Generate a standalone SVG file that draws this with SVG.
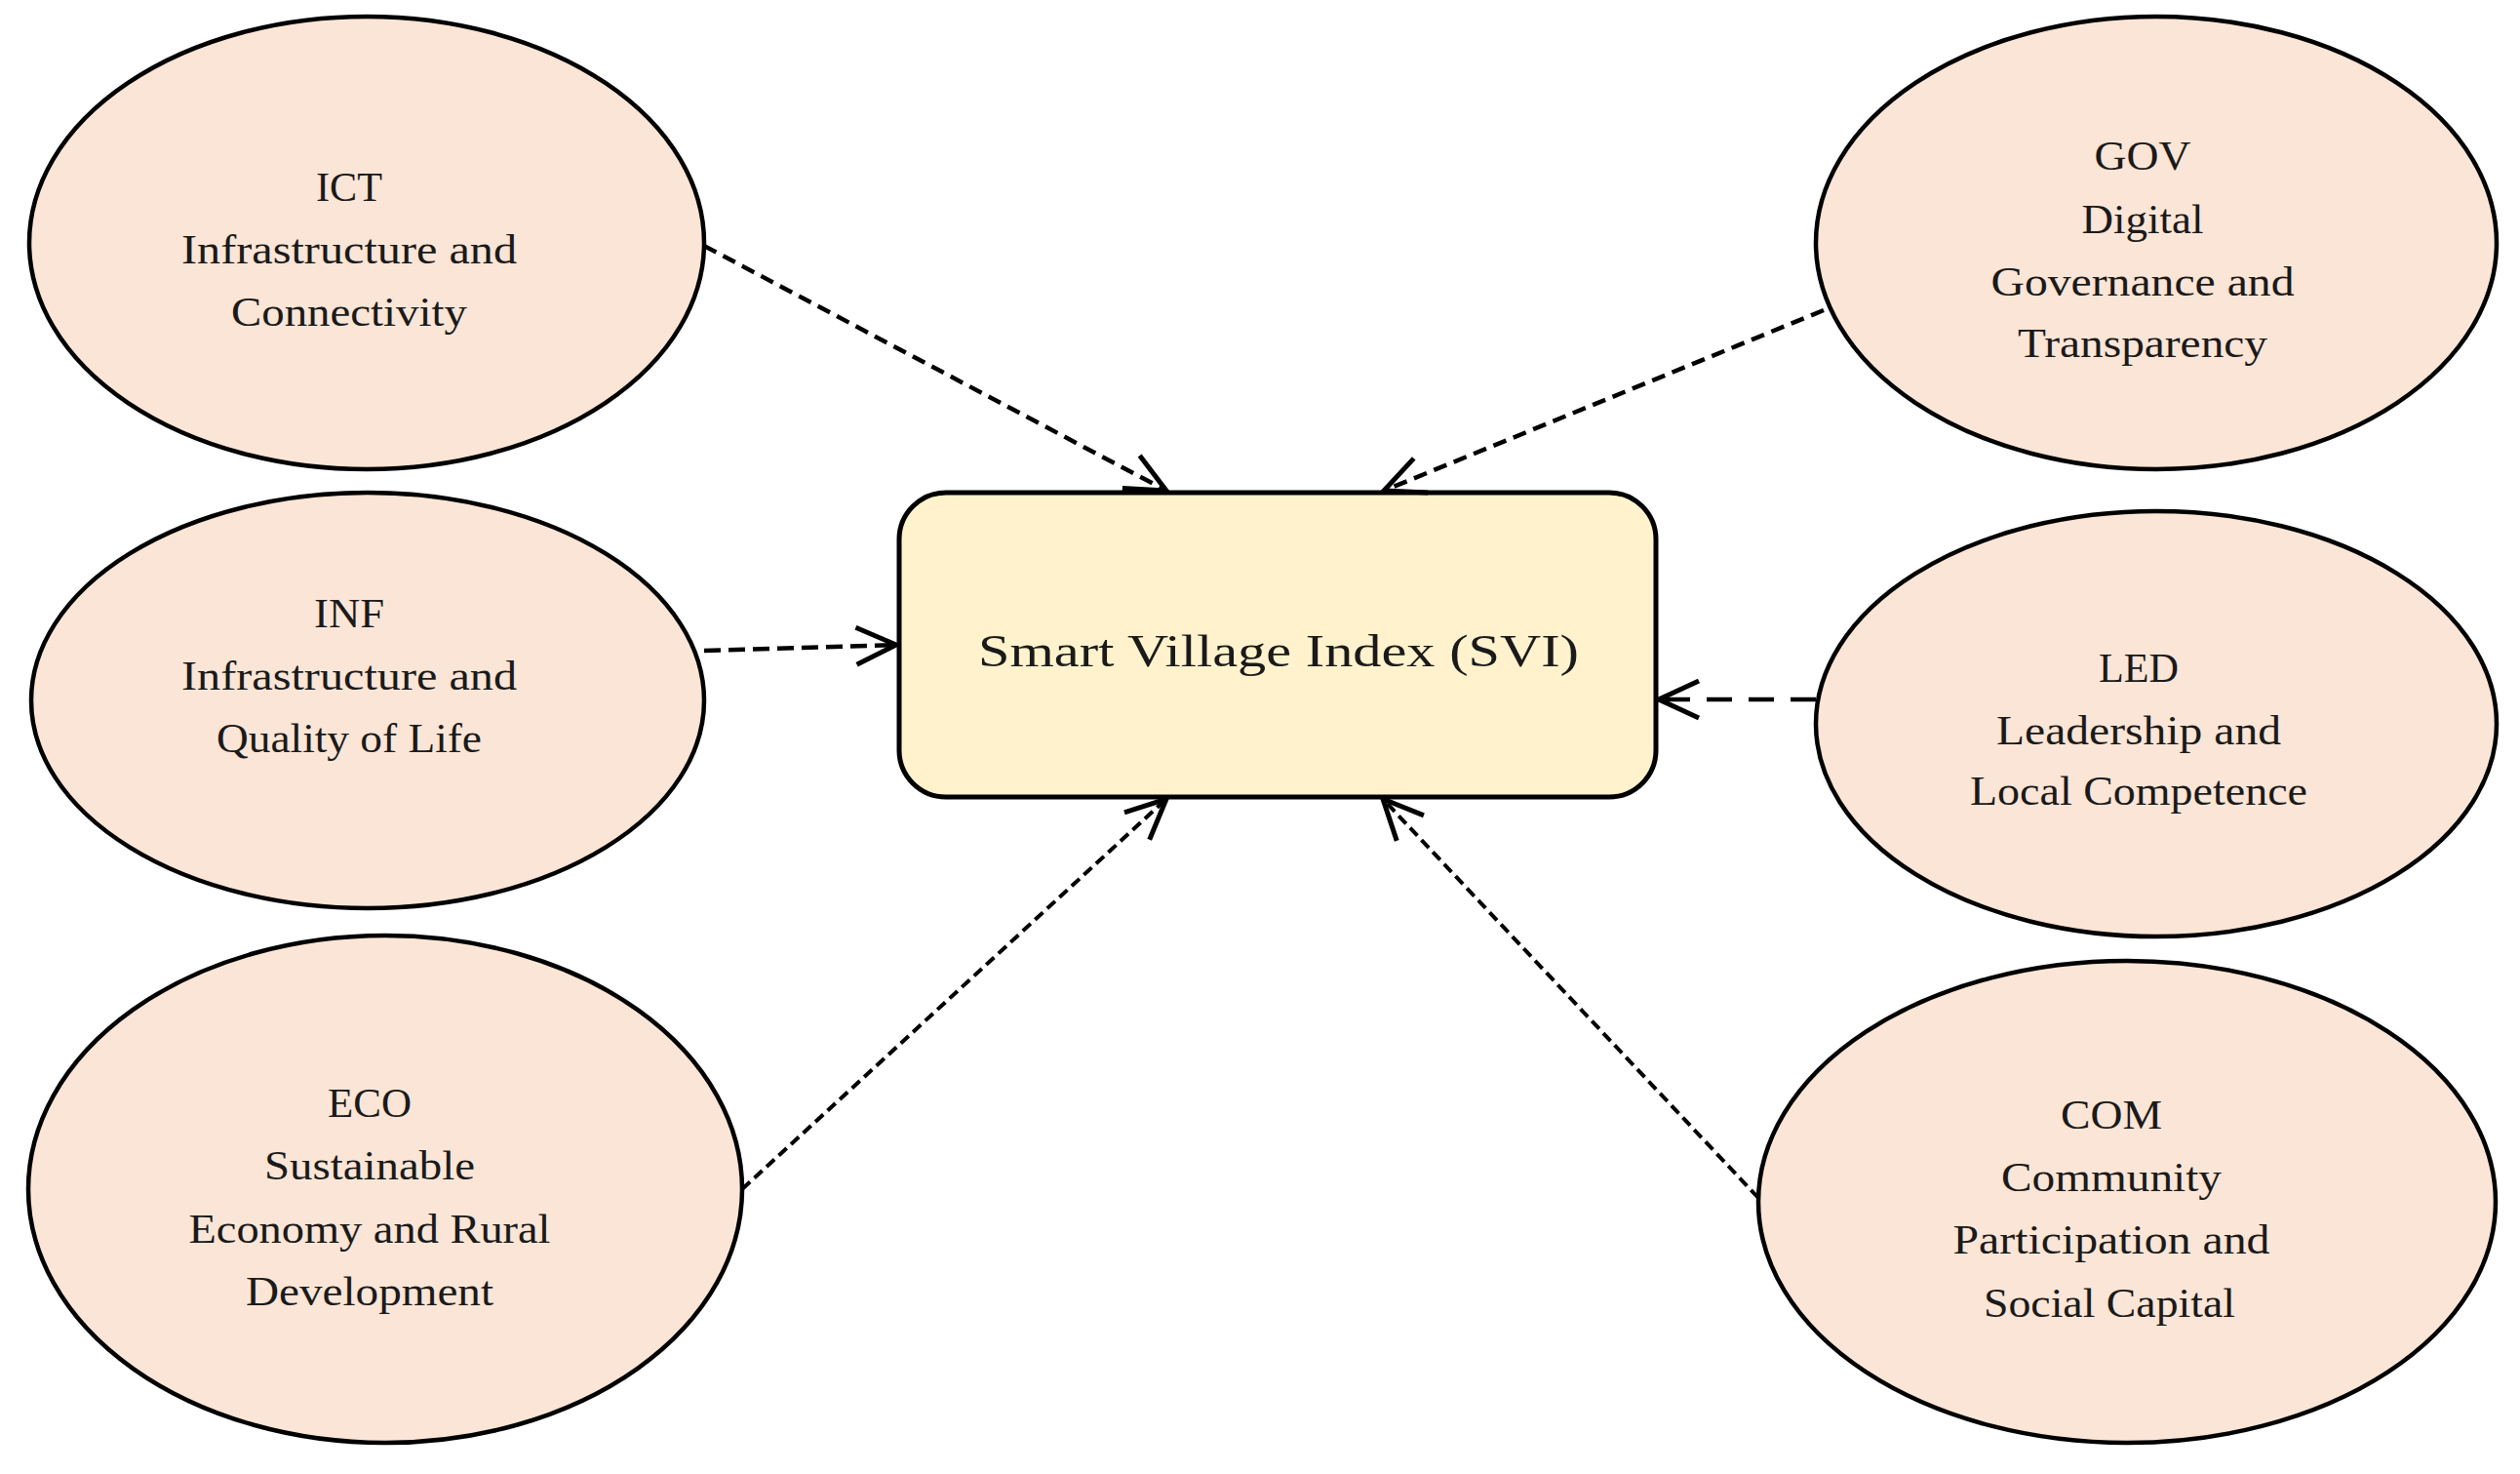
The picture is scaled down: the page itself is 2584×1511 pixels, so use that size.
<svg xmlns="http://www.w3.org/2000/svg" width="2584" height="1511" viewBox="0 0 2584 1511">
<style>
.bg{fill:#ffffff}
.oval{fill:#FBE5D6;stroke:#000;stroke-width:4.5}
.box{fill:#FFF2CC;stroke:#000;stroke-width:5}
.lbl{font-family:"Liberation Serif","Times New Roman",serif;font-size:42px;fill:#1a1a1a;text-anchor:middle}
.main{font-family:"Liberation Serif","Times New Roman",serif;font-size:47px;fill:#1a1a1a;text-anchor:middle}
.conn{fill:none;stroke:#000;stroke-width:4.5;stroke-dasharray:14 8;marker-end:url(#arr)}
</style>
<defs>
<marker id="arr" markerUnits="userSpaceOnUse" viewBox="0 0 48 46" refX="44" refY="23" markerWidth="48" markerHeight="46" orient="auto">
<path d="M3,4 L44,23 L3,42" fill="none" stroke="#000" stroke-width="5" stroke-linejoin="miter"/>
</marker>
</defs>
<rect class="bg" x="0" y="0" width="2584" height="1511"/>

<g id="svi">
<rect class="box" x="922" y="505" width="776" height="312" rx="48" ry="48"/>
<text class="main" x="1311" y="683" textLength="616" lengthAdjust="spacingAndGlyphs">Smart Village Index (SVI)</text>
</g>

<g id="connectors">
<line class="conn" x1="722" y1="252" x2="1196" y2="503"/>
<line class="conn" x1="1870" y1="318" x2="1419" y2="503"/>
<line class="conn" x1="722" y1="667" x2="919" y2="661" style="stroke-dasharray:17 8"/>
<line class="conn" x1="1862" y1="717" x2="1701" y2="717" style="stroke-dasharray:26 17"/>
<line class="conn" x1="761" y1="1219" x2="1196" y2="819" style="stroke-dasharray:11 6;stroke-width:4"/>
<line class="conn" x1="1803" y1="1228" x2="1418" y2="819" style="stroke-dasharray:11 6;stroke-width:4"/>
</g>

<g id="ict">
<ellipse class="oval" cx="376" cy="249" rx="346" ry="232"/>
<text class="lbl" x="358" y="206" textLength="68" lengthAdjust="spacingAndGlyphs">ICT</text>
<text class="lbl" x="358" y="270" textLength="344" lengthAdjust="spacingAndGlyphs">Infrastructure and</text>
<text class="lbl" x="358" y="334" textLength="242" lengthAdjust="spacingAndGlyphs">Connectivity</text>
</g>

<g id="inf">
<ellipse class="oval" cx="377" cy="718" rx="345" ry="213"/>
<text class="lbl" x="358" y="643" textLength="72" lengthAdjust="spacingAndGlyphs">INF</text>
<text class="lbl" x="358" y="707" textLength="344" lengthAdjust="spacingAndGlyphs">Infrastructure and</text>
<text class="lbl" x="358" y="771" textLength="272" lengthAdjust="spacingAndGlyphs">Quality of Life</text>
</g>

<g id="eco">
<ellipse class="oval" cx="395" cy="1219" rx="366" ry="260"/>
<text class="lbl" x="379" y="1145" textLength="86" lengthAdjust="spacingAndGlyphs">ECO</text>
<text class="lbl" x="379" y="1209" textLength="216" lengthAdjust="spacingAndGlyphs">Sustainable</text>
<text class="lbl" x="379" y="1274" textLength="371" lengthAdjust="spacingAndGlyphs">Economy and Rural</text>
<text class="lbl" x="379" y="1338" textLength="254" lengthAdjust="spacingAndGlyphs">Development</text>
</g>

<g id="gov">
<ellipse class="oval" cx="2211" cy="249" rx="349" ry="232"/>
<text class="lbl" x="2197" y="174" textLength="99" lengthAdjust="spacingAndGlyphs">GOV</text>
<text class="lbl" x="2197" y="239" textLength="125" lengthAdjust="spacingAndGlyphs">Digital</text>
<text class="lbl" x="2197" y="303" textLength="311" lengthAdjust="spacingAndGlyphs">Governance and</text>
<text class="lbl" x="2197" y="366" textLength="256" lengthAdjust="spacingAndGlyphs">Transparency</text>
</g>

<g id="led">
<ellipse class="oval" cx="2211" cy="742" rx="349" ry="218"/>
<text class="lbl" x="2193" y="699" textLength="82" lengthAdjust="spacingAndGlyphs">LED</text>
<text class="lbl" x="2193" y="763" textLength="292" lengthAdjust="spacingAndGlyphs">Leadership and</text>
<text class="lbl" x="2193" y="825" textLength="346" lengthAdjust="spacingAndGlyphs">Local Competence</text>
</g>

<g id="com">
<ellipse class="oval" cx="2181" cy="1232" rx="378" ry="247"/>
<text class="lbl" x="2165" y="1157" textLength="104" lengthAdjust="spacingAndGlyphs">COM</text>
<text class="lbl" x="2165" y="1221" textLength="226" lengthAdjust="spacingAndGlyphs">Community</text>
<text class="lbl" x="2165" y="1285" textLength="325" lengthAdjust="spacingAndGlyphs">Participation and</text>
<text class="lbl" x="2163" y="1350" textLength="258" lengthAdjust="spacingAndGlyphs">Social Capital</text>
</g>
</svg>
